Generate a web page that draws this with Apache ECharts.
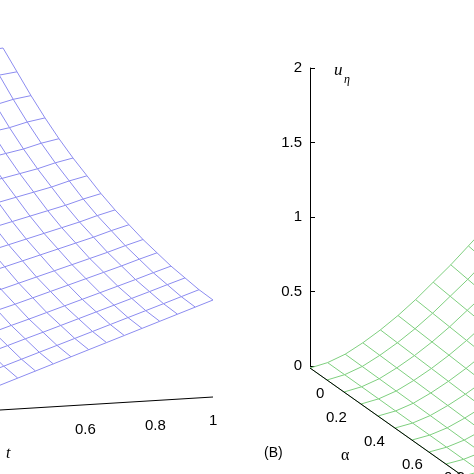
<![CDATA[<!DOCTYPE html><html><head><meta charset="utf-8">
<script src="https://cdn.jsdelivr.net/npm/echarts@6/dist/echarts.min.js"></script>
<style>html,body{margin:0;background:#fff}#c{width:474px;height:474px}</style></head><body><div id="c"></div>
<script>
// Left panel (blue): t nodes and depth-node heights
const tNodes=[0.25,0.3,0.35,0.4,0.45,0.5,0.55,0.6,0.65,0.7,0.75,0.8,0.85,0.9,0.95,1.0];
const sNodes=[0,0.07,0.14,0.21,0.28,0.35,0.42,0.49,0.56,0.63,0.7,0.77,0.84,0.91,0.98,1.05];
const leftDepthU=[0,0.05,0.11,0.17,0.24,0.31,0.39,0.47,0.56,0.66,0.76,0.87,0.99,1.12,1.26,1.4];
const leftTScale=[1.32,1.29,1.27,1.25,1.22,1.2,1.18,1.15,1.13,1.11,1.09,1.07,1.05,1.03,1.02,1.0];
const tTicks=['0.6','0.8','1'];
// Right panel (green)
const alphaNodes=[0,0.1,0.2,0.3,0.4,0.5,0.6,0.7,0.8,0.9,1.0];
const betaNodes=[0,0.08,0.16,0.24,0.32,0.4,0.48,0.56,0.64,0.72,0.8];
const rightBetaU=[0,0.02,0.06,0.12,0.19,0.27,0.36,0.46,0.56,0.67,0.78];
const rightAlphaScale=[1.0,0.97,0.94,0.91,0.88,0.85,0.82,0.79,0.76,0.73,0.7];
const alphaTicks=['0','0.2','0.4','0.6','0.8'];
const uTicks=[0,0.5,1,1.5,2];

function pL(i,j){const t=tNodes[i],s=sNodes[j],u=leftDepthU[j]*leftTScale[i];
 return [213-355*(1-t)-200*s, 300+142*(1-t)-40*s-150*u];}
function pR(i,j){const a=alphaNodes[i],b=betaNodes[j],u=rightBetaU[j]*rightAlphaScale[i];
 return [310+170*a+220*b, 368+120*a-30*b-150*u];}
const series=[];
function mesh(p,n,m,color){
 for(let i=0;i<n;i++){const d=[];for(let j=0;j<m;j++)d.push(p(i,j));series.push({type:'line',data:d,showSymbol:false,silent:true,lineStyle:{color,width:1},xAxisIndex:0,yAxisIndex:0});}
 for(let j=0;j<m;j++){const d=[];for(let i=0;i<n;i++)d.push(p(i,j));series.push({type:'line',data:d,showSymbol:false,silent:true,lineStyle:{color,width:1},xAxisIndex:0,yAxisIndex:0});}
}
mesh(pL,tNodes.length,sNodes.length,'#8c8cf0');
mesh(pR,alphaNodes.length,betaNodes.length,'#7fcf7f');
series.push({type:'line',data:[[0,410],[213,397]],showSymbol:false,lineStyle:{color:'#000',width:1},xAxisIndex:0,yAxisIndex:0});
series.push({type:'line',data:[[310,368],[474,484]],showSymbol:false,lineStyle:{color:'#000',width:1},xAxisIndex:0,yAxisIndex:0});
const tickPos=[[75,422],[145,418],[209,413]];
const aPos=[[316,386],[326,410],[364,434],[402,457],[444,470]];
const texts=[];
tTicks.forEach((s,k)=>texts.push({type:'text',x:tickPos[k][0],y:tickPos[k][1],style:{text:s,font:'15px "Liberation Sans"',fill:'#000'}}));
alphaTicks.forEach((s,k)=>texts.push({type:'text',x:aPos[k][0],y:aPos[k][1],style:{text:s,font:'15px "Liberation Sans"',fill:'#000'}}));
texts.push({type:'text',x:6,y:446,style:{text:'t',font:'italic 16px "Liberation Serif"',fill:'#000'}});
texts.push({type:'text',x:341,y:448,style:{text:'α',font:'16px "Liberation Serif"',fill:'#000'}});
texts.push({type:'text',x:264,y:446,style:{text:'(B)',font:'14px "Liberation Sans"',fill:'#000'}});
texts.push({type:'text',x:334,y:62,style:{text:'u',font:'italic 17px "Liberation Serif"',fill:'#000'}});
texts.push({type:'text',x:344,y:74,style:{text:'η',font:'italic 12px "Liberation Serif"',fill:'#000'}});
const chart=echarts.init(document.getElementById('c'));
chart.setOption({animation:false,
 grid:[{left:0,top:0,right:0,bottom:0},{left:310,top:68,width:1,height:298}],
 xAxis:[{type:'value',min:0,max:474,show:false,gridIndex:0},{type:'value',min:0,max:1,show:false,gridIndex:1}],
 yAxis:[{type:'value',min:0,max:474,inverse:true,show:false,gridIndex:0},
  {type:'value',min:uTicks[0],max:uTicks[4],interval:0.5,gridIndex:1,axisLine:{show:true,lineStyle:{color:'#000'}},axisTick:{show:true,inside:true,length:5,lineStyle:{color:'#000'}},splitLine:{show:false},axisLabel:{color:'#000',fontSize:15,fontFamily:'Liberation Sans',margin:8,formatter:v=>String(v)}}],
 series:series.concat([{type:'line',data:[],xAxisIndex:1,yAxisIndex:1}]),
 graphic:texts});
</script></body></html>]]>
